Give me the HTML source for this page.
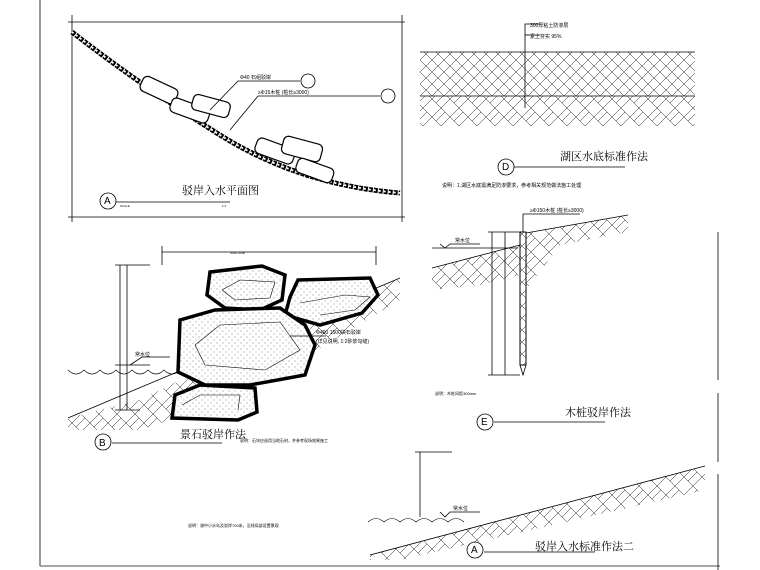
<!DOCTYPE html>
<html><head><meta charset="utf-8"><style>
html,body{margin:0;padding:0;background:#fff;width:760px;height:570px;overflow:hidden}
text{font-family:"Liberation Sans","Noto Sans CJK SC",sans-serif;fill:#000}
.t{font-family:"Liberation Serif","Noto Serif CJK SC",serif}
</style></head><body>
<svg width="760" height="570" viewBox="0 0 760 570" xmlns="http://www.w3.org/2000/svg">
<defs>
<pattern id="xh" width="12" height="12" patternUnits="userSpaceOnUse">
<path d="M0 0L12 12M12 0L0 12" stroke="#000" stroke-width="0.45"/>
</pattern>
<pattern id="hb" width="18" height="18" patternUnits="userSpaceOnUse">
<path d="M0 9L9 0M4 13L13 4M9 18L18 9M9 0L18 9M0 9L9 18" stroke="#000" stroke-width="0.45" fill="none"/>
</pattern>
<pattern id="dots" width="6" height="6" patternUnits="userSpaceOnUse">
<rect width="6" height="6" fill="#fff"/>
<circle cx="1" cy="1" r="0.45" fill="#555"/><circle cx="4" cy="4" r="0.45" fill="#555"/>
</pattern>
</defs>
<g stroke="#000" fill="none" stroke-width="0.8">
<line x1="40" y1="0" x2="40" y2="566"/>
<line x1="40" y1="566" x2="720" y2="566" stroke="#888" stroke-width="1.5"/>
<line x1="718" y1="232" x2="718" y2="380"/>
<line x1="718" y1="393" x2="718" y2="462"/>
<line x1="718" y1="474" x2="718" y2="570"/>

<!-- Panel A plan -->
<line x1="68" y1="22" x2="405" y2="22"/>
<line x1="68" y1="217" x2="405" y2="217"/>
<line x1="72" y1="15" x2="72" y2="222"/>
<line x1="402" y1="15" x2="402" y2="222"/>
<path d="M72 32 Q140 85 220 135 T400 193" stroke-width="5" stroke-dasharray="4 1"/>
<path d="M72 32 Q140 85 220 135 T400 193" stroke="#fff" stroke-width="1.8" stroke-dasharray="2 3"/>
<g stroke-width="1.2" fill="#fff">
<rect x="140" y="82" width="38" height="16" rx="5" transform="rotate(25 159 90)"/>
<rect x="170" y="103" width="40" height="15" rx="5" transform="rotate(20 190 110)"/>
<rect x="192" y="98" width="38" height="16" rx="5" transform="rotate(15 211 106)"/>
<rect x="255" y="143" width="40" height="16" rx="5" transform="rotate(20 275 151)"/>
<rect x="282" y="140" width="40" height="18" rx="5" transform="rotate(15 302 149)"/>
<rect x="296" y="163" width="38" height="15" rx="5" transform="rotate(20 315 170)"/>
</g>
<polyline points="210,110 238,81 300,81"/>
<circle cx="308" cy="81" r="7"/>
<polyline points="230,130 258,96 380,96"/>
<circle cx="388" cy="96" r="7"/>
<circle cx="108" cy="201" r="8"/>
<line x1="116" y1="202" x2="230" y2="202"/>

<!-- Panel D -->
<rect x="420" y="52" width="275" height="44" fill="url(#xh)" stroke="none"/>
<rect x="420" y="96" width="275" height="30" fill="url(#hb)" stroke="none"/>
<line x1="420" y1="52" x2="695" y2="52"/>
<line x1="420" y1="96" x2="695" y2="96"/>
<polyline points="525,108 525,24 540,24"/>
<line x1="525" y1="35" x2="540" y2="35"/>
<circle cx="506" cy="167" r="8"/>
<line x1="514" y1="167" x2="625" y2="167"/>

<!-- Panel B -->
<line x1="162" y1="252" x2="376" y2="252"/>
<line x1="162" y1="246" x2="162" y2="265"/>
<line x1="376" y1="246" x2="376" y2="265"/>
<path d="M68 418 L140 400 L200 370 L300 325 L400 278 L400 300 L300 360 L200 410 L140 430 L68 430Z" fill="url(#hb)" stroke="none"/>
<line x1="68" y1="418" x2="400" y2="278"/>
<line x1="120" y1="265" x2="120" y2="410"/>
<line x1="127" y1="265" x2="127" y2="410"/>
<line x1="115" y1="265" x2="150" y2="265"/>
<line x1="115" y1="365" x2="150" y2="365"/>
<line x1="115" y1="410" x2="140" y2="410"/>
<path d="M68 370 q8 8 16 0 q8 8 16 0 q8 8 16 0 q8 8 16 0 q8 8 16 0 q8 8 16 0 q8 8 16 0" stroke-width="0.6"/>
<polyline points="130,365 142,357 170,357"/>
<g stroke-width="3.5" fill="url(#dots)">
<polygon points="210,272 262,266 285,275 282,300 260,310 225,308 207,295"/>
<polygon points="298,280 370,278 378,295 362,313 320,325 285,315 290,297"/>
<polygon points="180,320 215,310 280,308 305,325 315,345 305,375 250,385 205,385 178,372"/>
<polygon points="175,395 200,385 255,388 257,412 238,420 172,418"/>
</g>
<g stroke-width="0.6">
<polyline points="222,290 240,280 275,282 270,298 235,300 222,290"/>
<polyline points="195,345 220,325 280,322 300,350 265,370 205,365 195,345"/>
<polyline points="300,303 345,295 370,297 355,310 320,315"/>
<polyline points="182,405 200,395 240,395 238,410"/>
</g>
<line x1="290" y1="336" x2="326" y2="336"/>
<circle cx="103" cy="442" r="8"/>
<line x1="112" y1="443" x2="222" y2="443"/>

<!-- Panel E -->
<path d="M432 268 L520 245 L520 275 L480 285 L432 290Z" fill="url(#hb)" stroke="none"/>
<path d="M526 233 L628 215 L628 232 L560 245 L526 290Z" fill="url(#hb)" stroke="none"/>
<line x1="432" y1="268" x2="520" y2="245"/>
<line x1="526" y1="233" x2="628" y2="215"/>
<rect x="520" y="232" width="6" height="133" fill="url(#xh)" stroke-width="1"/>
<polyline points="520,365 523,375 526,365"/>
<polyline points="523,232 523,214 580,214"/>
<line x1="492" y1="232" x2="492" y2="375"/>
<line x1="505" y1="232" x2="505" y2="375"/>
<line x1="488" y1="232" x2="520" y2="232"/>
<line x1="488" y1="375" x2="520" y2="375"/>
<line x1="432" y1="248" x2="518" y2="248"/>
<polyline points="440,244 445,248 450,244 480,244"/>
<circle cx="485" cy="422" r="8"/>
<line x1="494" y1="422" x2="605" y2="422"/>

<!-- Panel A2 -->
<path d="M370 555 L705 466 L705 490 L400 560 L370 560Z" fill="url(#hb)" stroke="none"/>
<line x1="370" y1="555" x2="705" y2="466"/>
<line x1="420" y1="452" x2="420" y2="517"/>
<line x1="415" y1="452" x2="452" y2="452"/>
<path d="M368 522 q8 -7 16 0 q8 -7 16 0 q8 -7 16 0 q8 -7 16 0 q8 -7 16 0 q8 -7 16 0" stroke-width="0.6"/>
<polyline points="440,512 445,517 450,512 480,512"/>
<circle cx="475" cy="550" r="8"/>
<line x1="484" y1="552" x2="595" y2="552"/>
</g>

<g font-size="5">
<text class="t" x="182" y="194" font-size="11">驳岸入水平面图</text>
<text x="104" y="204" font-size="10">A</text>
<text x="120" y="207" font-size="3">SCALE</text>
<text x="222" y="207" font-size="3">1:1</text>
<text x="240" y="79">Φ40 石组驳岸</text>
<text x="258" y="94">≥Φ15木桩 (桩长≥3000)</text>
<text x="530" y="27">300厚粘土防渗层</text>
<text x="530" y="38">素土夯实 95%</text>
<text class="t" x="560" y="160" font-size="11">湖区水底标准作法</text>
<text x="502" y="170" font-size="10">D</text>
<text x="442" y="187">说明：1.湖区水底需满足防渗要求，参考相关规范做法施工处理</text>
<text x="230" y="254" font-size="3">2000~3000</text>
<text x="135" y="356">常水位</text>
<text x="316" y="334">Φ400 1500块石驳岸</text>
<text x="316" y="343">(详见说明, 1:2砂浆勾缝)</text>
<text class="t" x="180" y="438" font-size="11">景石驳岸作法</text>
<text x="99" y="446" font-size="10">B</text>
<text x="240" y="442" font-size="4">说明：石块应选用当地石材，并参考现场效果施工</text>
<text x="530" y="212">≥Φ150木桩 (桩长≥3000)</text>
<text x="455" y="242">常水位</text>
<text x="435" y="395" font-size="4">说明：木桩间距300mm</text>
<text class="t" x="565" y="416" font-size="11">木桩驳岸作法</text>
<text x="481" y="425" font-size="10">E</text>
<text x="453" y="510">常水位</text>
<text class="t" x="535" y="550" font-size="11">驳岸入水标准作法二</text>
<text x="471" y="553" font-size="10">A</text>
<text x="188" y="527" font-size="4">说明：湖中小水岛及驳岸700米，沿线局部设置景观</text>
</g>
</svg>
</body></html>
